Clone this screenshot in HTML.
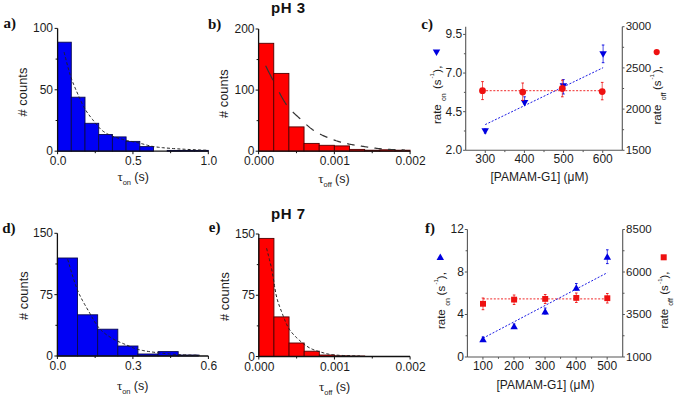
<!DOCTYPE html>
<html><head><meta charset="utf-8"><style>
html,body{margin:0;padding:0;background:#fff;width:675px;height:397px;overflow:hidden;}
svg{display:block;}
</style></head><body>
<svg width="675" height="397" viewBox="0 0 675 397">
<rect width="675" height="397" fill="#fff"/>
<rect x="57.60" y="42.20" width="13.70" height="109.00" fill="#0000f5" stroke="#0a0a50" stroke-width="0.9"/>
<rect x="71.30" y="97.20" width="13.70" height="54.00" fill="#0000f5" stroke="#0a0a50" stroke-width="0.9"/>
<rect x="85.00" y="123.30" width="13.70" height="27.90" fill="#0000f5" stroke="#0a0a50" stroke-width="0.9"/>
<rect x="98.70" y="134.50" width="13.70" height="16.70" fill="#0000f5" stroke="#0a0a50" stroke-width="0.9"/>
<rect x="112.40" y="136.90" width="13.70" height="14.30" fill="#0000f5" stroke="#0a0a50" stroke-width="0.9"/>
<rect x="126.10" y="141.40" width="13.70" height="9.80" fill="#0000f5" stroke="#0a0a50" stroke-width="0.9"/>
<rect x="139.80" y="146.60" width="13.70" height="4.60" fill="#0000f5" stroke="#0a0a50" stroke-width="0.9"/>
<rect x="153.50" y="151.20" width="13.70" height="0.00" fill="#0000f5" stroke="#0a0a50" stroke-width="0.9"/>
<rect x="167.20" y="150.40" width="13.70" height="0.80" fill="#0000f5" stroke="#0a0a50" stroke-width="0.9"/>
<rect x="180.90" y="150.40" width="13.70" height="0.80" fill="#0000f5" stroke="#0a0a50" stroke-width="0.9"/>
<rect x="194.60" y="150.40" width="13.70" height="0.80" fill="#0000f5" stroke="#0a0a50" stroke-width="0.9"/>
<line x1="57.60" y1="151.20" x2="57.60" y2="28.40" stroke="#111" stroke-width="1.3" />
<line x1="57.00" y1="151.20" x2="208.30" y2="151.20" stroke="#111" stroke-width="1.3" />
<line x1="54.60" y1="151.20" x2="57.60" y2="151.20" stroke="#111" stroke-width="1" />
<line x1="54.60" y1="89.80" x2="57.60" y2="89.80" stroke="#111" stroke-width="1" />
<line x1="54.60" y1="28.40" x2="57.60" y2="28.40" stroke="#111" stroke-width="1" />
<line x1="55.60" y1="120.50" x2="57.60" y2="120.50" stroke="#111" stroke-width="1" />
<line x1="55.60" y1="59.10" x2="57.60" y2="59.10" stroke="#111" stroke-width="1" />
<line x1="57.60" y1="151.20" x2="57.60" y2="154.20" stroke="#111" stroke-width="1" />
<line x1="132.95" y1="151.20" x2="132.95" y2="154.20" stroke="#111" stroke-width="1" />
<line x1="208.30" y1="151.20" x2="208.30" y2="154.20" stroke="#111" stroke-width="1" />
<line x1="95.28" y1="151.20" x2="95.28" y2="153.20" stroke="#111" stroke-width="1" />
<line x1="170.62" y1="151.20" x2="170.62" y2="153.20" stroke="#111" stroke-width="1" />
<text x="53.00" y="32.30" font-size="12" text-anchor="end" font-weight="normal" font-family='"Liberation Sans", sans-serif' fill="#1c1c1c" >100</text>
<text x="53.00" y="93.70" font-size="12" text-anchor="end" font-weight="normal" font-family='"Liberation Sans", sans-serif' fill="#1c1c1c" >50</text>
<text x="53.00" y="155.10" font-size="12" text-anchor="end" font-weight="normal" font-family='"Liberation Sans", sans-serif' fill="#1c1c1c" >0</text>
<text x="58.10" y="165.30" font-size="12" text-anchor="middle" font-weight="normal" font-family='"Liberation Sans", sans-serif' fill="#1c1c1c" >0.0</text>
<text x="133.45" y="165.30" font-size="12" text-anchor="middle" font-weight="normal" font-family='"Liberation Sans", sans-serif' fill="#1c1c1c" >0.5</text>
<text x="208.80" y="165.30" font-size="12" text-anchor="middle" font-weight="normal" font-family='"Liberation Sans", sans-serif' fill="#1c1c1c" >1.0</text>
<path d="M64.10,52.20 L64.41,53.37 L64.78,54.85 L65.22,56.60 L65.72,58.57 L66.26,60.70 L66.83,62.94 L67.43,65.25 L68.05,67.58 L68.67,69.86 L69.30,72.06 L69.91,74.13 L70.50,76.00 L71.09,77.74 L71.69,79.44 L72.31,81.09 L72.94,82.71 L73.57,84.29 L74.21,85.83 L74.85,87.34 L75.50,88.83 L76.13,90.28 L76.77,91.71 L77.39,93.12 L78.00,94.50 L78.60,95.86 L79.18,97.19 L79.76,98.48 L80.33,99.75 L80.89,100.99 L81.46,102.20 L82.02,103.39 L82.60,104.55 L83.18,105.69 L83.77,106.81 L84.38,107.92 L85.00,109.00 L85.64,110.06 L86.29,111.09 L86.96,112.09 L87.64,113.06 L88.32,114.02 L89.01,114.95 L89.71,115.87 L90.41,116.77 L91.11,117.66 L91.81,118.55 L92.51,119.42 L93.20,120.30 L93.89,121.18 L94.57,122.06 L95.26,122.93 L95.94,123.80 L96.63,124.66 L97.31,125.51 L98.00,126.33 L98.70,127.13 L99.41,127.90 L100.13,128.64 L100.86,129.34 L101.60,130.00 L102.34,130.61 L103.08,131.18 L103.82,131.72 L104.56,132.21 L105.30,132.68 L106.06,133.13 L106.84,133.56 L107.64,133.97 L108.48,134.38 L109.34,134.78 L110.25,135.19 L111.20,135.60 L112.20,136.01 L113.25,136.42 L114.35,136.82 L115.48,137.21 L116.64,137.59 L117.83,137.96 L119.02,138.33 L120.23,138.68 L121.44,139.03 L122.64,139.36 L123.83,139.69 L125.00,140.00 L126.15,140.30 L127.30,140.57 L128.44,140.83 L129.58,141.07 L130.72,141.31 L131.86,141.54 L133.01,141.76 L134.18,141.99 L135.35,142.23 L136.55,142.47 L137.76,142.73 L139.00,143.00 L140.23,143.29 L141.45,143.61 L142.65,143.93 L143.85,144.27 L145.07,144.61 L146.31,144.95 L147.59,145.29 L148.93,145.62 L150.32,145.94 L151.79,146.25 L153.35,146.54 L155.00,146.80 L156.76,147.04 L158.61,147.27 L160.55,147.48 L162.56,147.69 L164.63,147.88 L166.75,148.06 L168.91,148.23 L171.11,148.39 L173.33,148.55 L175.56,148.70 L177.78,148.85 L180.00,149.00 L182.32,149.14 L184.82,149.28 L187.45,149.42 L190.15,149.55 L192.87,149.67 L195.56,149.79 L198.17,149.90 L200.63,150.00 L202.90,150.09 L204.92,150.17 L206.64,150.24 L208.00,150.30" fill="none" stroke="#222" stroke-width="1.0" stroke-dasharray="3,2.2"/>
<text x="3.40" y="27.60" font-size="15" text-anchor="start" font-weight="bold" font-family='"Liberation Serif", serif' fill="#111" >a)</text>
<text transform="translate(26.90,116.40) rotate(-90)" font-size="12.9" font-family='"Liberation Sans", sans-serif' fill="#1c1c1c"># counts</text>
<text x="117.4" y="181" font-size="12.5" font-family='"Liberation Sans", sans-serif' fill="#1c1c1c"><tspan font-family='"Liberation Serif", serif' font-size="13">τ</tspan><tspan font-size="7.5" dy="3.5">on</tspan><tspan dy="-3.5" dx="-0.2"> (s)</tspan></text>
<rect x="258.60" y="43.30" width="15.15" height="107.90" fill="#ff0000" stroke="#500000" stroke-width="0.9"/>
<rect x="273.75" y="73.40" width="15.15" height="77.80" fill="#ff0000" stroke="#500000" stroke-width="0.9"/>
<rect x="288.90" y="126.90" width="15.15" height="24.30" fill="#ff0000" stroke="#500000" stroke-width="0.9"/>
<rect x="304.05" y="143.40" width="15.15" height="7.80" fill="#ff0000" stroke="#500000" stroke-width="0.9"/>
<rect x="319.20" y="145.30" width="15.15" height="5.90" fill="#ff0000" stroke="#500000" stroke-width="0.9"/>
<rect x="334.35" y="145.90" width="15.15" height="5.30" fill="#ff0000" stroke="#500000" stroke-width="0.9"/>
<rect x="349.50" y="149.40" width="15.15" height="1.80" fill="#ff0000" stroke="#500000" stroke-width="0.9"/>
<rect x="364.65" y="150.20" width="15.15" height="1.00" fill="#ff0000" stroke="#500000" stroke-width="0.9"/>
<rect x="379.80" y="149.80" width="15.15" height="1.40" fill="#ff0000" stroke="#500000" stroke-width="0.9"/>
<rect x="394.95" y="150.20" width="15.15" height="1.00" fill="#ff0000" stroke="#500000" stroke-width="0.9"/>
<line x1="258.60" y1="151.20" x2="258.60" y2="29.00" stroke="#111" stroke-width="1.3" />
<line x1="258.00" y1="151.20" x2="410.10" y2="151.20" stroke="#111" stroke-width="1.3" />
<line x1="255.60" y1="151.20" x2="258.60" y2="151.20" stroke="#111" stroke-width="1" />
<line x1="255.60" y1="90.10" x2="258.60" y2="90.10" stroke="#111" stroke-width="1" />
<line x1="255.60" y1="29.00" x2="258.60" y2="29.00" stroke="#111" stroke-width="1" />
<line x1="256.60" y1="120.65" x2="258.60" y2="120.65" stroke="#111" stroke-width="1" />
<line x1="256.60" y1="59.55" x2="258.60" y2="59.55" stroke="#111" stroke-width="1" />
<line x1="258.60" y1="151.20" x2="258.60" y2="154.20" stroke="#111" stroke-width="1" />
<line x1="334.35" y1="151.20" x2="334.35" y2="154.20" stroke="#111" stroke-width="1" />
<line x1="410.10" y1="151.20" x2="410.10" y2="154.20" stroke="#111" stroke-width="1" />
<line x1="296.48" y1="151.20" x2="296.48" y2="153.20" stroke="#111" stroke-width="1" />
<line x1="372.23" y1="151.20" x2="372.23" y2="153.20" stroke="#111" stroke-width="1" />
<text x="254.50" y="32.90" font-size="12" text-anchor="end" font-weight="normal" font-family='"Liberation Sans", sans-serif' fill="#1c1c1c" >200</text>
<text x="254.50" y="94.00" font-size="12" text-anchor="end" font-weight="normal" font-family='"Liberation Sans", sans-serif' fill="#1c1c1c" >100</text>
<text x="254.50" y="155.10" font-size="12" text-anchor="end" font-weight="normal" font-family='"Liberation Sans", sans-serif' fill="#1c1c1c" >0</text>
<text x="259.10" y="165.30" font-size="12" text-anchor="middle" font-weight="normal" font-family='"Liberation Sans", sans-serif' fill="#1c1c1c" >0.000</text>
<text x="334.85" y="165.30" font-size="12" text-anchor="middle" font-weight="normal" font-family='"Liberation Sans", sans-serif' fill="#1c1c1c" >0.001</text>
<text x="410.60" y="165.30" font-size="12" text-anchor="middle" font-weight="normal" font-family='"Liberation Sans", sans-serif' fill="#1c1c1c" >0.002</text>
<path d="M265.60,65.69 L266.04,66.57 L266.57,67.64 L267.14,68.77 L267.73,69.96 L268.35,71.19 L268.99,72.46 L269.66,73.76 L270.33,75.08 L271.02,76.42 L271.71,77.75 L272.40,79.08 L273.00,80.21" fill="none" stroke="#333" stroke-width="1.2"/>
<path d="M279.20,92.32 L279.31,92.53 L280.15,94.13 L281.00,95.72 L281.86,97.28 L282.73,98.80 L283.59,100.28 L284.46,101.69 L285.33,103.04 L286.20,104.30 L286.60,104.85" fill="none" stroke="#333" stroke-width="1.2"/>
<path d="M292.80,111.98 L293.41,112.59 L294.34,113.48 L295.27,114.34 L296.19,115.20 L297.12,116.04 L298.05,116.88 L298.97,117.72 L299.89,118.55 L300.20,118.84" fill="none" stroke="#333" stroke-width="1.2"/>
<path d="M306.40,124.61 L306.96,125.11 L307.84,125.88 L308.72,126.64 L309.61,127.38 L310.51,128.11 L311.43,128.82 L312.37,129.52 L313.32,130.19 L313.80,130.52" fill="none" stroke="#333" stroke-width="1.2"/>
<path d="M320.00,134.10 L320.80,134.49 L321.97,135.05 L323.15,135.58 L324.33,136.11 L325.51,136.61 L326.69,137.10 L327.40,137.39" fill="none" stroke="#333" stroke-width="1.2"/>
<path d="M333.60,139.81 L334.29,140.07 L335.25,140.41 L336.19,140.74 L337.11,141.04 L338.01,141.32 L338.90,141.59 L339.77,141.84 L340.63,142.07 L341.00,142.17" fill="none" stroke="#333" stroke-width="1.2"/>
<path d="M347.20,143.68 L347.30,143.70 L348.13,143.89 L348.94,144.06 L349.74,144.23 L350.54,144.38 L351.32,144.52 L352.10,144.66 L352.88,144.79 L353.65,144.92 L354.42,145.04 L354.60,145.07" fill="none" stroke="#333" stroke-width="1.2"/>
<path d="M360.80,146.03 L360.84,146.04 L361.69,146.17 L362.55,146.31 L363.42,146.45 L364.30,146.59 L365.19,146.73 L366.07,146.87 L366.96,147.01 L367.85,147.14 L368.20,147.19" fill="none" stroke="#333" stroke-width="1.2"/>
<path d="M374.40,148.05 L374.83,148.10 L375.63,148.20 L376.40,148.30 L377.15,148.39 L377.89,148.48 L378.63,148.56 L379.36,148.65 L380.11,148.72 L380.87,148.80 L381.65,148.88 L381.80,148.89" fill="none" stroke="#333" stroke-width="1.2"/>
<path d="M388.00,149.34 L388.50,149.37 L389.84,149.44 L391.30,149.51 L392.85,149.57 L394.46,149.64 L395.40,149.68" fill="none" stroke="#333" stroke-width="1.2"/>
<path d="M401.60,149.91 L402.74,149.95 L404.27,150.00 L405.00,150.02" fill="none" stroke="#333" stroke-width="1.2"/>
<text x="208.00" y="28.50" font-size="15" text-anchor="start" font-weight="bold" font-family='"Liberation Serif", serif' fill="#111" >b)</text>
<text transform="translate(228.20,118.00) rotate(-90)" font-size="12.9" font-family='"Liberation Sans", sans-serif' fill="#1c1c1c"># counts</text>
<text x="318.3" y="183.0" font-size="12.5" font-family='"Liberation Sans", sans-serif' fill="#1c1c1c"><tspan font-family='"Liberation Serif", serif' font-size="13">τ</tspan><tspan font-size="7.5" dy="3.5">off</tspan><tspan dy="-3.5" dx="-0.2"> (s)</tspan></text>
<text x="271.0" y="12.8" font-size="15" font-weight="bold" letter-spacing="0.5" font-family='"Liberation Sans", sans-serif' fill="#111">pH 3</text>
<rect x="57.40" y="258.00" width="20.13" height="98.00" fill="#0000f5" stroke="#0a0a50" stroke-width="0.9"/>
<rect x="77.53" y="314.80" width="20.13" height="41.20" fill="#0000f5" stroke="#0a0a50" stroke-width="0.9"/>
<rect x="97.67" y="329.20" width="20.13" height="26.80" fill="#0000f5" stroke="#0a0a50" stroke-width="0.9"/>
<rect x="117.80" y="346.00" width="20.13" height="10.00" fill="#0000f5" stroke="#0a0a50" stroke-width="0.9"/>
<rect x="137.93" y="354.00" width="20.13" height="2.00" fill="#0000f5" stroke="#0a0a50" stroke-width="0.9"/>
<rect x="158.07" y="351.60" width="20.13" height="4.40" fill="#0000f5" stroke="#0a0a50" stroke-width="0.9"/>
<rect x="178.20" y="355.00" width="20.13" height="1.00" fill="#0000f5" stroke="#0a0a50" stroke-width="0.9"/>
<line x1="57.40" y1="356.00" x2="57.40" y2="233.30" stroke="#111" stroke-width="1.3" />
<line x1="56.80" y1="356.00" x2="208.40" y2="356.00" stroke="#111" stroke-width="1.3" />
<line x1="54.40" y1="356.00" x2="57.40" y2="356.00" stroke="#111" stroke-width="1" />
<line x1="54.40" y1="294.65" x2="57.40" y2="294.65" stroke="#111" stroke-width="1" />
<line x1="54.40" y1="233.30" x2="57.40" y2="233.30" stroke="#111" stroke-width="1" />
<line x1="55.40" y1="325.32" x2="57.40" y2="325.32" stroke="#111" stroke-width="1" />
<line x1="55.40" y1="263.98" x2="57.40" y2="263.98" stroke="#111" stroke-width="1" />
<line x1="57.40" y1="356.00" x2="57.40" y2="359.00" stroke="#111" stroke-width="1" />
<line x1="132.90" y1="356.00" x2="132.90" y2="359.00" stroke="#111" stroke-width="1" />
<line x1="208.40" y1="356.00" x2="208.40" y2="359.00" stroke="#111" stroke-width="1" />
<line x1="95.15" y1="356.00" x2="95.15" y2="358.00" stroke="#111" stroke-width="1" />
<line x1="170.65" y1="356.00" x2="170.65" y2="358.00" stroke="#111" stroke-width="1" />
<text x="53.00" y="237.30" font-size="12" text-anchor="end" font-weight="normal" font-family='"Liberation Sans", sans-serif' fill="#1c1c1c" >150</text>
<text x="53.00" y="298.65" font-size="12" text-anchor="end" font-weight="normal" font-family='"Liberation Sans", sans-serif' fill="#1c1c1c" >75</text>
<text x="53.00" y="360.00" font-size="12" text-anchor="end" font-weight="normal" font-family='"Liberation Sans", sans-serif' fill="#1c1c1c" >0</text>
<text x="57.90" y="369.60" font-size="12" text-anchor="middle" font-weight="normal" font-family='"Liberation Sans", sans-serif' fill="#1c1c1c" >0.0</text>
<text x="133.40" y="369.60" font-size="12" text-anchor="middle" font-weight="normal" font-family='"Liberation Sans", sans-serif' fill="#1c1c1c" >0.3</text>
<text x="208.90" y="369.60" font-size="12" text-anchor="middle" font-weight="normal" font-family='"Liberation Sans", sans-serif' fill="#1c1c1c" >0.6</text>
<path d="M67.70,259.40 L68.16,260.90 L68.72,262.80 L69.38,265.04 L70.11,267.57 L70.91,270.30 L71.77,273.18 L72.67,276.14 L73.60,279.12 L74.55,282.05 L75.51,284.87 L76.46,287.51 L77.40,289.90 L78.35,292.13 L79.35,294.32 L80.39,296.46 L81.46,298.56 L82.55,300.61 L83.65,302.61 L84.75,304.55 L85.84,306.44 L86.91,308.27 L87.95,310.04 L88.95,311.75 L89.90,313.40 L90.80,314.97 L91.65,316.48 L92.46,317.91 L93.24,319.29 L94.00,320.60 L94.76,321.86 L95.51,323.08 L96.27,324.25 L97.05,325.38 L97.86,326.48 L98.71,327.55 L99.60,328.60 L100.53,329.61 L101.49,330.57 L102.47,331.49 L103.48,332.36 L104.50,333.20 L105.54,334.00 L106.59,334.77 L107.66,335.51 L108.73,336.24 L109.82,336.94 L110.91,337.62 L112.00,338.30 L113.11,338.95 L114.25,339.58 L115.40,340.17 L116.58,340.74 L117.76,341.28 L118.95,341.81 L120.14,342.31 L121.32,342.81 L122.50,343.29 L123.65,343.76 L124.79,344.23 L125.90,344.70 L126.97,345.16 L127.98,345.61 L128.96,346.05 L129.92,346.48 L130.87,346.90 L131.82,347.31 L132.78,347.70 L133.78,348.09 L134.81,348.46 L135.90,348.82 L137.06,349.16 L138.30,349.50 L139.61,349.82 L140.98,350.13 L142.39,350.42 L143.86,350.70 L145.36,350.97 L146.90,351.23 L148.47,351.47 L150.08,351.71 L151.71,351.94 L153.36,352.17 L155.02,352.39 L156.70,352.60 L158.41,352.81 L160.17,353.01 L161.96,353.21 L163.79,353.40 L165.65,353.58 L167.52,353.75 L169.40,353.91 L171.29,354.07 L173.16,354.22 L175.03,354.35 L176.88,354.48 L178.70,354.60 L180.57,354.71 L182.54,354.80 L184.57,354.88 L186.64,354.96 L188.70,355.02 L190.72,355.08 L192.67,355.12 L194.50,355.17 L196.19,355.20 L197.69,355.24 L198.97,355.27 L200.00,355.30" fill="none" stroke="#222" stroke-width="1.0" stroke-dasharray="3,2.2"/>
<text x="2.20" y="233.00" font-size="15" text-anchor="start" font-weight="bold" font-family='"Liberation Serif", serif' fill="#111" >d)</text>
<text transform="translate(27.80,320.00) rotate(-90)" font-size="12.9" font-family='"Liberation Sans", sans-serif' fill="#1c1c1c"># counts</text>
<text x="116.9" y="390.4" font-size="12.5" font-family='"Liberation Sans", sans-serif' fill="#1c1c1c"><tspan font-family='"Liberation Serif", serif' font-size="13">τ</tspan><tspan font-size="7.5" dy="3.5">on</tspan><tspan dy="-3.5" dx="-0.2"> (s)</tspan></text>
<rect x="258.80" y="238.40" width="15.13" height="118.10" fill="#ff0000" stroke="#500000" stroke-width="0.9"/>
<rect x="273.93" y="316.90" width="15.13" height="39.60" fill="#ff0000" stroke="#500000" stroke-width="0.9"/>
<rect x="289.06" y="343.00" width="15.13" height="13.50" fill="#ff0000" stroke="#500000" stroke-width="0.9"/>
<rect x="304.19" y="351.20" width="15.13" height="5.30" fill="#ff0000" stroke="#500000" stroke-width="0.9"/>
<rect x="319.32" y="355.00" width="15.13" height="1.50" fill="#ff0000" stroke="#500000" stroke-width="0.9"/>
<rect x="334.45" y="355.80" width="15.13" height="0.70" fill="#ff0000" stroke="#500000" stroke-width="0.9"/>
<rect x="349.58" y="356.00" width="15.13" height="0.50" fill="#ff0000" stroke="#500000" stroke-width="0.9"/>
<line x1="258.80" y1="356.50" x2="258.80" y2="234.00" stroke="#111" stroke-width="1.3" />
<line x1="258.20" y1="356.50" x2="410.10" y2="356.50" stroke="#111" stroke-width="1.3" />
<line x1="255.80" y1="356.50" x2="258.80" y2="356.50" stroke="#111" stroke-width="1" />
<line x1="255.80" y1="295.25" x2="258.80" y2="295.25" stroke="#111" stroke-width="1" />
<line x1="255.80" y1="234.00" x2="258.80" y2="234.00" stroke="#111" stroke-width="1" />
<line x1="256.80" y1="325.88" x2="258.80" y2="325.88" stroke="#111" stroke-width="1" />
<line x1="256.80" y1="264.62" x2="258.80" y2="264.62" stroke="#111" stroke-width="1" />
<line x1="258.80" y1="356.50" x2="258.80" y2="359.50" stroke="#111" stroke-width="1" />
<line x1="334.45" y1="356.50" x2="334.45" y2="359.50" stroke="#111" stroke-width="1" />
<line x1="410.10" y1="356.50" x2="410.10" y2="359.50" stroke="#111" stroke-width="1" />
<line x1="296.62" y1="356.50" x2="296.62" y2="358.50" stroke="#111" stroke-width="1" />
<line x1="372.28" y1="356.50" x2="372.28" y2="358.50" stroke="#111" stroke-width="1" />
<text x="255.00" y="238.10" font-size="12" text-anchor="end" font-weight="normal" font-family='"Liberation Sans", sans-serif' fill="#1c1c1c" >150</text>
<text x="255.00" y="299.35" font-size="12" text-anchor="end" font-weight="normal" font-family='"Liberation Sans", sans-serif' fill="#1c1c1c" >75</text>
<text x="255.00" y="360.60" font-size="12" text-anchor="end" font-weight="normal" font-family='"Liberation Sans", sans-serif' fill="#1c1c1c" >0</text>
<text x="259.30" y="370.80" font-size="12" text-anchor="middle" font-weight="normal" font-family='"Liberation Sans", sans-serif' fill="#1c1c1c" >0.000</text>
<text x="334.95" y="370.80" font-size="12" text-anchor="middle" font-weight="normal" font-family='"Liberation Sans", sans-serif' fill="#1c1c1c" >0.001</text>
<text x="410.60" y="370.80" font-size="12" text-anchor="middle" font-weight="normal" font-family='"Liberation Sans", sans-serif' fill="#1c1c1c" >0.002</text>
<path d="M266.60,248.30 L266.85,249.32 L267.17,250.58 L267.55,252.05 L267.97,253.70 L268.43,255.50 L268.91,257.41 L269.41,259.42 L269.92,261.49 L270.42,263.59 L270.91,265.70 L271.37,267.78 L271.80,269.80 L272.20,271.85 L272.59,274.00 L272.97,276.24 L273.34,278.53 L273.71,280.86 L274.08,283.19 L274.44,285.51 L274.81,287.79 L275.19,290.00 L275.58,292.12 L275.98,294.13 L276.40,296.00 L276.83,297.73 L277.26,299.36 L277.70,300.89 L278.15,302.35 L278.61,303.74 L279.07,305.07 L279.54,306.38 L280.01,307.65 L280.50,308.92 L280.99,310.19 L281.49,311.48 L282.00,312.80 L282.51,314.15 L283.02,315.50 L283.54,316.86 L284.06,318.21 L284.58,319.55 L285.12,320.88 L285.67,322.18 L286.23,323.46 L286.82,324.71 L287.42,325.92 L288.05,327.08 L288.70,328.20 L289.37,329.27 L290.07,330.28 L290.77,331.26 L291.50,332.20 L292.24,333.11 L293.01,333.99 L293.79,334.85 L294.59,335.69 L295.41,336.52 L296.25,337.35 L297.12,338.17 L298.00,339.00 L298.90,339.84 L299.83,340.67 L300.77,341.51 L301.73,342.33 L302.72,343.15 L303.72,343.95 L304.74,344.73 L305.79,345.49 L306.86,346.22 L307.95,346.92 L309.06,347.58 L310.20,348.20 L311.38,348.78 L312.62,349.34 L313.90,349.86 L315.21,350.36 L316.55,350.82 L317.89,351.26 L319.24,351.68 L320.58,352.07 L321.89,352.43 L323.18,352.78 L324.42,353.10 L325.60,353.40 L326.70,353.67 L327.72,353.91 L328.66,354.11 L329.57,354.29 L330.45,354.44 L331.33,354.57 L332.24,354.69 L333.19,354.80 L334.21,354.90 L335.32,355.00 L336.54,355.10 L337.90,355.20 L339.47,355.30 L341.27,355.40 L343.25,355.49 L345.36,355.57 L347.53,355.64 L349.72,355.71 L351.86,355.77 L353.91,355.83 L355.80,355.88 L357.48,355.92 L358.90,355.96 L360.00,356.00" fill="none" stroke="#222" stroke-width="1.0" stroke-dasharray="3,2.2"/>
<text x="208.80" y="232.00" font-size="15" text-anchor="start" font-weight="bold" font-family='"Liberation Serif", serif' fill="#111" >e)</text>
<text transform="translate(228.50,320.90) rotate(-90)" font-size="12.9" font-family='"Liberation Sans", sans-serif' fill="#1c1c1c"># counts</text>
<text x="319" y="391" font-size="12.5" font-family='"Liberation Sans", sans-serif' fill="#1c1c1c"><tspan font-family='"Liberation Serif", serif' font-size="13">τ</tspan><tspan font-size="7.5" dy="3.5">off</tspan><tspan dy="-3.5" dx="-0.2"> (s)</tspan></text>
<text x="271.0" y="219.3" font-size="15" font-weight="bold" letter-spacing="0.5" font-family='"Liberation Sans", sans-serif' fill="#111">pH 7</text>
<line x1="465.70" y1="150.30" x2="465.70" y2="26.70" stroke="#555" stroke-width="1.1" />
<line x1="622.30" y1="150.30" x2="622.30" y2="26.70" stroke="#555" stroke-width="1.1" />
<line x1="465.70" y1="150.30" x2="622.30" y2="150.30" stroke="#555" stroke-width="1.1" />
<line x1="463.10" y1="150.30" x2="465.70" y2="150.30" stroke="#555" stroke-width="1" />
<line x1="463.10" y1="111.68" x2="465.70" y2="111.68" stroke="#555" stroke-width="1" />
<line x1="463.10" y1="73.05" x2="465.70" y2="73.05" stroke="#555" stroke-width="1" />
<line x1="463.10" y1="34.42" x2="465.70" y2="34.42" stroke="#555" stroke-width="1" />
<line x1="463.90" y1="130.99" x2="465.70" y2="130.99" stroke="#555" stroke-width="1" />
<line x1="463.90" y1="92.36" x2="465.70" y2="92.36" stroke="#555" stroke-width="1" />
<line x1="463.90" y1="53.74" x2="465.70" y2="53.74" stroke="#555" stroke-width="1" />
<line x1="622.30" y1="150.30" x2="624.50" y2="150.30" stroke="#555" stroke-width="1" />
<line x1="622.30" y1="109.10" x2="624.50" y2="109.10" stroke="#555" stroke-width="1" />
<line x1="622.30" y1="67.90" x2="624.50" y2="67.90" stroke="#555" stroke-width="1" />
<line x1="622.30" y1="26.70" x2="624.50" y2="26.70" stroke="#555" stroke-width="1" />
<line x1="622.30" y1="129.70" x2="624.10" y2="129.70" stroke="#555" stroke-width="1" />
<line x1="622.30" y1="88.50" x2="624.10" y2="88.50" stroke="#555" stroke-width="1" />
<line x1="622.30" y1="47.30" x2="624.10" y2="47.30" stroke="#555" stroke-width="1" />
<line x1="485.27" y1="150.30" x2="485.27" y2="152.90" stroke="#555" stroke-width="1" />
<line x1="524.42" y1="150.30" x2="524.42" y2="152.90" stroke="#555" stroke-width="1" />
<line x1="563.57" y1="150.30" x2="563.57" y2="152.90" stroke="#555" stroke-width="1" />
<line x1="602.72" y1="150.30" x2="602.72" y2="152.90" stroke="#555" stroke-width="1" />
<line x1="504.85" y1="150.30" x2="504.85" y2="152.10" stroke="#555" stroke-width="1" />
<line x1="544.00" y1="150.30" x2="544.00" y2="152.10" stroke="#555" stroke-width="1" />
<line x1="583.15" y1="150.30" x2="583.15" y2="152.10" stroke="#555" stroke-width="1" />
<text x="462.20" y="154.20" font-size="12" text-anchor="end" font-weight="normal" font-family='"Liberation Sans", sans-serif' fill="#1c1c1c" >2.0</text>
<text x="462.20" y="115.58" font-size="12" text-anchor="end" font-weight="normal" font-family='"Liberation Sans", sans-serif' fill="#1c1c1c" >4.5</text>
<text x="462.20" y="76.95" font-size="12" text-anchor="end" font-weight="normal" font-family='"Liberation Sans", sans-serif' fill="#1c1c1c" >7.0</text>
<text x="462.20" y="38.32" font-size="12" text-anchor="end" font-weight="normal" font-family='"Liberation Sans", sans-serif' fill="#1c1c1c" >9.5</text>
<text x="625.70" y="153.90" font-size="11.5" text-anchor="start" font-weight="normal" font-family='"Liberation Sans", sans-serif' fill="#1c1c1c" >1500</text>
<text x="625.70" y="112.70" font-size="11.5" text-anchor="start" font-weight="normal" font-family='"Liberation Sans", sans-serif' fill="#1c1c1c" >2000</text>
<text x="625.70" y="71.50" font-size="11.5" text-anchor="start" font-weight="normal" font-family='"Liberation Sans", sans-serif' fill="#1c1c1c" >2500</text>
<text x="625.70" y="30.30" font-size="11.5" text-anchor="start" font-weight="normal" font-family='"Liberation Sans", sans-serif' fill="#1c1c1c" >3000</text>
<text x="485.27" y="163.20" font-size="12" text-anchor="middle" font-weight="normal" font-family='"Liberation Sans", sans-serif' fill="#1c1c1c" >300</text>
<text x="524.42" y="163.20" font-size="12" text-anchor="middle" font-weight="normal" font-family='"Liberation Sans", sans-serif' fill="#1c1c1c" >400</text>
<text x="563.57" y="163.20" font-size="12" text-anchor="middle" font-weight="normal" font-family='"Liberation Sans", sans-serif' fill="#1c1c1c" >500</text>
<text x="602.72" y="163.20" font-size="12" text-anchor="middle" font-weight="normal" font-family='"Liberation Sans", sans-serif' fill="#1c1c1c" >600</text>
<line x1="482.5" y1="90.7" x2="602.2" y2="90.7" stroke="#ee1111" stroke-width="0.9" stroke-dasharray="2,1.6"/>
<line x1="485.2" y1="124.6" x2="603.1" y2="67.7" stroke="#0000e0" stroke-width="0.9" stroke-dasharray="2,1.6"/>
<line x1="485.20" y1="129.00" x2="485.20" y2="133.00" stroke="#0000e0" stroke-width="0.7" />
<line x1="483.90" y1="129.00" x2="486.50" y2="129.00" stroke="#0000e0" stroke-width="0.9" />
<line x1="483.90" y1="133.00" x2="486.50" y2="133.00" stroke="#0000e0" stroke-width="0.9" />
<path d="M481.45,128.25 L488.95,128.25 L485.20,134.75 Z" fill="#0000e0"/>
<line x1="524.60" y1="96.80" x2="524.60" y2="104.00" stroke="#0000e0" stroke-width="0.7" />
<line x1="523.30" y1="96.80" x2="525.90" y2="96.80" stroke="#0000e0" stroke-width="0.9" />
<line x1="523.30" y1="104.00" x2="525.90" y2="104.00" stroke="#0000e0" stroke-width="0.9" />
<path d="M520.85,99.95 L528.35,99.95 L524.60,106.45 Z" fill="#0000e0"/>
<line x1="563.40" y1="79.60" x2="563.40" y2="94.00" stroke="#0000e0" stroke-width="0.7" />
<line x1="562.10" y1="79.60" x2="564.70" y2="79.60" stroke="#0000e0" stroke-width="0.9" />
<line x1="562.10" y1="94.00" x2="564.70" y2="94.00" stroke="#0000e0" stroke-width="0.9" />
<path d="M559.65,83.35 L567.15,83.35 L563.40,89.85 Z" fill="#0000e0"/>
<line x1="603.10" y1="45.00" x2="603.10" y2="62.70" stroke="#0000e0" stroke-width="0.7" />
<line x1="601.80" y1="45.00" x2="604.40" y2="45.00" stroke="#0000e0" stroke-width="0.9" />
<line x1="601.80" y1="62.70" x2="604.40" y2="62.70" stroke="#0000e0" stroke-width="0.9" />
<path d="M599.35,51.15 L606.85,51.15 L603.10,57.65 Z" fill="#0000e0"/>
<line x1="482.50" y1="81.60" x2="482.50" y2="99.60" stroke="#ee1111" stroke-width="0.7" />
<line x1="481.20" y1="81.60" x2="483.80" y2="81.60" stroke="#ee1111" stroke-width="0.9" />
<line x1="481.20" y1="99.60" x2="483.80" y2="99.60" stroke="#ee1111" stroke-width="0.9" />
<circle cx="482.5" cy="90.7" r="3.4" fill="#ee1111"/>
<line x1="522.70" y1="83.00" x2="522.70" y2="100.40" stroke="#ee1111" stroke-width="0.7" />
<line x1="521.40" y1="83.00" x2="524.00" y2="83.00" stroke="#ee1111" stroke-width="0.9" />
<line x1="521.40" y1="100.40" x2="524.00" y2="100.40" stroke="#ee1111" stroke-width="0.9" />
<circle cx="522.7" cy="92.1" r="3.4" fill="#ee1111"/>
<line x1="562.30" y1="80.20" x2="562.30" y2="96.80" stroke="#ee1111" stroke-width="0.7" />
<line x1="561.00" y1="80.20" x2="563.60" y2="80.20" stroke="#ee1111" stroke-width="0.9" />
<line x1="561.00" y1="96.80" x2="563.60" y2="96.80" stroke="#ee1111" stroke-width="0.9" />
<circle cx="562.3" cy="88.5" r="3.4" fill="#ee1111"/>
<line x1="602.20" y1="82.40" x2="602.20" y2="99.80" stroke="#ee1111" stroke-width="0.7" />
<line x1="600.90" y1="82.40" x2="603.50" y2="82.40" stroke="#ee1111" stroke-width="0.9" />
<line x1="600.90" y1="99.80" x2="603.50" y2="99.80" stroke="#ee1111" stroke-width="0.9" />
<circle cx="602.2" cy="91.6" r="3.4" fill="#ee1111"/>
<path d="M432.75,49.45 L440.25,49.45 L436.50,55.95 Z" fill="#0000e0"/>
<circle cx="656.7" cy="52.1" r="3.1" fill="#ee1111"/>
<text x="421.30" y="28.50" font-size="15" text-anchor="start" font-weight="bold" font-family='"Liberation Serif", serif' fill="#111" >c)</text>
<text x="490.5" y="180.7" font-size="12" font-family='"Liberation Sans", sans-serif' fill="#1c1c1c">[PAMAM-G1] (μM)</text>
<text transform="translate(440.50,124.10) rotate(-90)" font-size="11.5" font-family='"Liberation Sans", sans-serif' fill="#1c1c1c">rate</text>
<text transform="translate(446.00,101.10) rotate(-90)" font-size="7" font-family='"Liberation Sans", sans-serif' fill="#1c1c1c">on</text>
<text transform="translate(440.50,89.00) rotate(-90)" font-size="11.5" font-family='"Liberation Sans", sans-serif' fill="#1c1c1c">(s</text>
<text transform="translate(434.00,78.60) rotate(-90)" font-size="6.2" font-family='"Liberation Sans", sans-serif' fill="#1c1c1c">-1</text>
<text transform="translate(440.50,72.70) rotate(-90)" font-size="11.5" font-family='"Liberation Sans", sans-serif' fill="#1c1c1c">),</text>
<text transform="translate(661.00,124.50) rotate(-90)" font-size="11.5" font-family='"Liberation Sans", sans-serif' fill="#1c1c1c">rate</text>
<text transform="translate(665.80,100.20) rotate(-90)" font-size="7" font-family='"Liberation Sans", sans-serif' fill="#1c1c1c">off</text>
<text transform="translate(661.00,90.10) rotate(-90)" font-size="11.5" font-family='"Liberation Sans", sans-serif' fill="#1c1c1c">(s</text>
<text transform="translate(654.30,79.50) rotate(-90)" font-size="6.2" font-family='"Liberation Sans", sans-serif' fill="#1c1c1c">-1</text>
<text transform="translate(661.00,73.10) rotate(-90)" font-size="11.5" font-family='"Liberation Sans", sans-serif' fill="#1c1c1c">),</text>
<line x1="467.40" y1="357.00" x2="467.40" y2="229.50" stroke="#555" stroke-width="1.1" />
<line x1="622.70" y1="357.00" x2="622.70" y2="229.50" stroke="#555" stroke-width="1.1" />
<line x1="467.40" y1="357.00" x2="622.70" y2="357.00" stroke="#555" stroke-width="1.1" />
<line x1="464.80" y1="357.00" x2="467.40" y2="357.00" stroke="#555" stroke-width="1" />
<line x1="464.80" y1="314.50" x2="467.40" y2="314.50" stroke="#555" stroke-width="1" />
<line x1="464.80" y1="272.00" x2="467.40" y2="272.00" stroke="#555" stroke-width="1" />
<line x1="464.80" y1="229.50" x2="467.40" y2="229.50" stroke="#555" stroke-width="1" />
<line x1="465.60" y1="335.75" x2="467.40" y2="335.75" stroke="#555" stroke-width="1" />
<line x1="465.60" y1="293.25" x2="467.40" y2="293.25" stroke="#555" stroke-width="1" />
<line x1="465.60" y1="250.75" x2="467.40" y2="250.75" stroke="#555" stroke-width="1" />
<line x1="622.70" y1="357.00" x2="624.90" y2="357.00" stroke="#555" stroke-width="1" />
<line x1="622.70" y1="314.50" x2="624.90" y2="314.50" stroke="#555" stroke-width="1" />
<line x1="622.70" y1="272.00" x2="624.90" y2="272.00" stroke="#555" stroke-width="1" />
<line x1="622.70" y1="229.50" x2="624.90" y2="229.50" stroke="#555" stroke-width="1" />
<line x1="622.70" y1="335.75" x2="624.50" y2="335.75" stroke="#555" stroke-width="1" />
<line x1="622.70" y1="293.25" x2="624.50" y2="293.25" stroke="#555" stroke-width="1" />
<line x1="622.70" y1="250.75" x2="624.50" y2="250.75" stroke="#555" stroke-width="1" />
<line x1="482.93" y1="357.00" x2="482.93" y2="359.60" stroke="#555" stroke-width="1" />
<line x1="513.99" y1="357.00" x2="513.99" y2="359.60" stroke="#555" stroke-width="1" />
<line x1="545.05" y1="357.00" x2="545.05" y2="359.60" stroke="#555" stroke-width="1" />
<line x1="576.11" y1="357.00" x2="576.11" y2="359.60" stroke="#555" stroke-width="1" />
<line x1="607.17" y1="357.00" x2="607.17" y2="359.60" stroke="#555" stroke-width="1" />
<line x1="498.46" y1="357.00" x2="498.46" y2="358.80" stroke="#555" stroke-width="1" />
<line x1="529.52" y1="357.00" x2="529.52" y2="358.80" stroke="#555" stroke-width="1" />
<line x1="560.58" y1="357.00" x2="560.58" y2="358.80" stroke="#555" stroke-width="1" />
<line x1="591.64" y1="357.00" x2="591.64" y2="358.80" stroke="#555" stroke-width="1" />
<text x="463.90" y="360.90" font-size="12" text-anchor="end" font-weight="normal" font-family='"Liberation Sans", sans-serif' fill="#1c1c1c" >0</text>
<text x="463.90" y="318.40" font-size="12" text-anchor="end" font-weight="normal" font-family='"Liberation Sans", sans-serif' fill="#1c1c1c" >4</text>
<text x="463.90" y="275.90" font-size="12" text-anchor="end" font-weight="normal" font-family='"Liberation Sans", sans-serif' fill="#1c1c1c" >8</text>
<text x="463.90" y="233.40" font-size="12" text-anchor="end" font-weight="normal" font-family='"Liberation Sans", sans-serif' fill="#1c1c1c" >12</text>
<text x="626.10" y="360.60" font-size="11.5" text-anchor="start" font-weight="normal" font-family='"Liberation Sans", sans-serif' fill="#1c1c1c" >1000</text>
<text x="626.10" y="318.10" font-size="11.5" text-anchor="start" font-weight="normal" font-family='"Liberation Sans", sans-serif' fill="#1c1c1c" >3500</text>
<text x="626.10" y="275.60" font-size="11.5" text-anchor="start" font-weight="normal" font-family='"Liberation Sans", sans-serif' fill="#1c1c1c" >6000</text>
<text x="626.10" y="233.10" font-size="11.5" text-anchor="start" font-weight="normal" font-family='"Liberation Sans", sans-serif' fill="#1c1c1c" >8500</text>
<text x="482.93" y="369.50" font-size="12" text-anchor="middle" font-weight="normal" font-family='"Liberation Sans", sans-serif' fill="#1c1c1c" >100</text>
<text x="513.99" y="369.50" font-size="12" text-anchor="middle" font-weight="normal" font-family='"Liberation Sans", sans-serif' fill="#1c1c1c" >200</text>
<text x="545.05" y="369.50" font-size="12" text-anchor="middle" font-weight="normal" font-family='"Liberation Sans", sans-serif' fill="#1c1c1c" >300</text>
<text x="576.11" y="369.50" font-size="12" text-anchor="middle" font-weight="normal" font-family='"Liberation Sans", sans-serif' fill="#1c1c1c" >400</text>
<text x="607.17" y="369.50" font-size="12" text-anchor="middle" font-weight="normal" font-family='"Liberation Sans", sans-serif' fill="#1c1c1c" >500</text>
<line x1="483" y1="298.9" x2="607.3" y2="298.9" stroke="#ee1111" stroke-width="0.9" stroke-dasharray="2,1.6"/>
<line x1="483" y1="338.2" x2="607.3" y2="272.7" stroke="#0000e0" stroke-width="0.9" stroke-dasharray="2,1.6"/>
<line x1="483.00" y1="337.00" x2="483.00" y2="341.00" stroke="#0000e0" stroke-width="0.7" />
<line x1="481.70" y1="337.00" x2="484.30" y2="337.00" stroke="#0000e0" stroke-width="0.9" />
<line x1="481.70" y1="341.00" x2="484.30" y2="341.00" stroke="#0000e0" stroke-width="0.9" />
<path d="M479.25,342.35 L486.75,342.35 L483.00,335.85 Z" fill="#0000e0"/>
<line x1="514.10" y1="324.00" x2="514.10" y2="328.00" stroke="#0000e0" stroke-width="0.7" />
<line x1="512.80" y1="324.00" x2="515.40" y2="324.00" stroke="#0000e0" stroke-width="0.9" />
<line x1="512.80" y1="328.00" x2="515.40" y2="328.00" stroke="#0000e0" stroke-width="0.9" />
<path d="M510.35,329.35 L517.85,329.35 L514.10,322.85 Z" fill="#0000e0"/>
<line x1="545.20" y1="308.00" x2="545.20" y2="314.00" stroke="#0000e0" stroke-width="0.7" />
<line x1="543.90" y1="308.00" x2="546.50" y2="308.00" stroke="#0000e0" stroke-width="0.9" />
<line x1="543.90" y1="314.00" x2="546.50" y2="314.00" stroke="#0000e0" stroke-width="0.9" />
<path d="M541.45,314.55 L548.95,314.55 L545.20,308.05 Z" fill="#0000e0"/>
<line x1="576.30" y1="283.50" x2="576.30" y2="290.00" stroke="#0000e0" stroke-width="0.7" />
<line x1="575.00" y1="283.50" x2="577.60" y2="283.50" stroke="#0000e0" stroke-width="0.9" />
<line x1="575.00" y1="290.00" x2="577.60" y2="290.00" stroke="#0000e0" stroke-width="0.9" />
<path d="M572.55,290.65 L580.05,290.65 L576.30,284.15 Z" fill="#0000e0"/>
<line x1="607.30" y1="249.80" x2="607.30" y2="263.60" stroke="#0000e0" stroke-width="0.7" />
<line x1="606.00" y1="249.80" x2="608.60" y2="249.80" stroke="#0000e0" stroke-width="0.9" />
<line x1="606.00" y1="263.60" x2="608.60" y2="263.60" stroke="#0000e0" stroke-width="0.9" />
<path d="M603.55,259.65 L611.05,259.65 L607.30,253.15 Z" fill="#0000e0"/>
<line x1="483.00" y1="298.00" x2="483.00" y2="309.70" stroke="#ee1111" stroke-width="0.7" />
<line x1="481.70" y1="298.00" x2="484.30" y2="298.00" stroke="#ee1111" stroke-width="0.9" />
<line x1="481.70" y1="309.70" x2="484.30" y2="309.70" stroke="#ee1111" stroke-width="0.9" />
<rect x="480" y="300.90000000000003" width="6" height="5.8" fill="#ee1111"/>
<line x1="514.10" y1="295.00" x2="514.10" y2="304.50" stroke="#ee1111" stroke-width="0.7" />
<line x1="512.80" y1="295.00" x2="515.40" y2="295.00" stroke="#ee1111" stroke-width="0.9" />
<line x1="512.80" y1="304.50" x2="515.40" y2="304.50" stroke="#ee1111" stroke-width="0.9" />
<rect x="511.1" y="296.70000000000005" width="6" height="5.8" fill="#ee1111"/>
<line x1="545.20" y1="294.50" x2="545.20" y2="303.50" stroke="#ee1111" stroke-width="0.7" />
<line x1="543.90" y1="294.50" x2="546.50" y2="294.50" stroke="#ee1111" stroke-width="0.9" />
<line x1="543.90" y1="303.50" x2="546.50" y2="303.50" stroke="#ee1111" stroke-width="0.9" />
<rect x="542.2" y="296.0" width="6" height="5.8" fill="#ee1111"/>
<line x1="576.30" y1="293.00" x2="576.30" y2="302.50" stroke="#ee1111" stroke-width="0.7" />
<line x1="575.00" y1="293.00" x2="577.60" y2="293.00" stroke="#ee1111" stroke-width="0.9" />
<line x1="575.00" y1="302.50" x2="577.60" y2="302.50" stroke="#ee1111" stroke-width="0.9" />
<rect x="573.3" y="295.0" width="6" height="5.8" fill="#ee1111"/>
<line x1="607.30" y1="293.50" x2="607.30" y2="303.00" stroke="#ee1111" stroke-width="0.7" />
<line x1="606.00" y1="293.50" x2="608.60" y2="293.50" stroke="#ee1111" stroke-width="0.9" />
<line x1="606.00" y1="303.00" x2="608.60" y2="303.00" stroke="#ee1111" stroke-width="0.9" />
<rect x="604.3" y="295.3" width="6" height="5.8" fill="#ee1111"/>
<path d="M436.55,259.95 L444.05,259.95 L440.30,253.45 Z" fill="#0000e0"/>
<rect x="660.7" y="254.3" width="6" height="6" fill="#ee1111"/>
<text x="425.00" y="232.50" font-size="15" text-anchor="start" font-weight="bold" font-family='"Liberation Serif", serif' fill="#111" >f)</text>
<text x="496.5" y="389" font-size="12" font-family='"Liberation Sans", sans-serif' fill="#1c1c1c">[PAMAM-G1] (μM)</text>
<text transform="translate(445.00,329.10) rotate(-90)" font-size="11.5" font-family='"Liberation Sans", sans-serif' fill="#1c1c1c">rate</text>
<text transform="translate(450.00,305.80) rotate(-90)" font-size="7" font-family='"Liberation Sans", sans-serif' fill="#1c1c1c">on</text>
<text transform="translate(445.00,295.40) rotate(-90)" font-size="11.5" font-family='"Liberation Sans", sans-serif' fill="#1c1c1c">(s</text>
<text transform="translate(438.40,284.50) rotate(-90)" font-size="6.2" font-family='"Liberation Sans", sans-serif' fill="#1c1c1c">-1</text>
<text transform="translate(445.00,279.20) rotate(-90)" font-size="11.5" font-family='"Liberation Sans", sans-serif' fill="#1c1c1c">),</text>
<text transform="translate(667.80,328.60) rotate(-90)" font-size="11.5" font-family='"Liberation Sans", sans-serif' fill="#1c1c1c">rate</text>
<text transform="translate(673.20,305.80) rotate(-90)" font-size="7" font-family='"Liberation Sans", sans-serif' fill="#1c1c1c">off</text>
<text transform="translate(667.80,294.80) rotate(-90)" font-size="11.5" font-family='"Liberation Sans", sans-serif' fill="#1c1c1c">(s</text>
<text transform="translate(661.60,283.90) rotate(-90)" font-size="6.2" font-family='"Liberation Sans", sans-serif' fill="#1c1c1c">-1</text>
<text transform="translate(667.80,278.60) rotate(-90)" font-size="11.5" font-family='"Liberation Sans", sans-serif' fill="#1c1c1c">),</text>
</svg>
</body></html>
